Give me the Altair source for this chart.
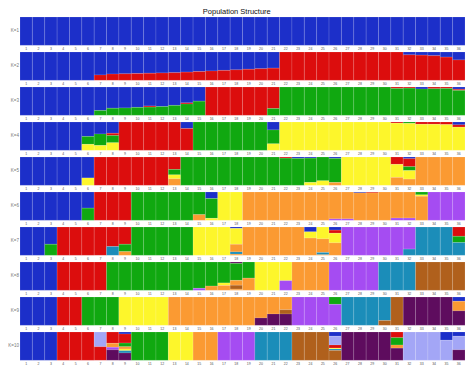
import altair as alt
import pandas as pd

# cluster codes and colours
codes = ["B", "R", "G", "Y", "O", "P", "T", "N", "M", "L"]
palette = ["#1c2fc9", "#dc0d0d", "#10a810", "#fdf62b", "#fb9a32",
           "#a54cf2", "#1b8db9", "#b0601c", "#5e0c5e", "#a3a6f6"]

ids = [str(n) for n in range(1, 37)]
klabels = ["K=%d" % k for k in range(1, 11)]

# each entry: segments from top to bottom, "C.ff" = colour + fraction, last takes the rest
K1 = ["B", "B", "B", "B", "B", "B", "B", "B", "B", "B", "B", "B",
      "B", "B", "B", "B", "B", "B", "B", "B", "B", "B", "B", "B",
      "B", "B", "B", "B", "B", "B", "B", "B", "B", "B", "B", "B"]
K2 = ["B", "B", "B", "B", "B", "B", "B.81 R", "B.78 R", "B.77 R", "B.76 R", "B.75 R", "B.74 R",
      "B.73 R", "B.71 R", "B.69 R", "B.67 R", "B.65 R", "B.63 R", "B.61 R", "B.59 R", "B.57 R", "R", "R", "R",
      "R", "R", "R", "R", "R", "R", "R", "B.10 R", "B.11 R", "B.13 R", "B.18 R", "B.28 R"]
K3 = ["B", "B", "B", "B", "B", "B", "B.83 G", "B.75 G", "B.74 G", "B.72 G", "B.67 R.04 G", "B.69 G",
      "B.65 G", "B.56 R.04 G", "B.50 G", "R", "R", "R", "R", "R", "R.76 G", "G", "G", "G",
      "G", "G", "G", "G", "G", "G", "R.05 G", "R.04 G", "B.07 G", "R.06 G", "R.05 G", "B.08 R.04 G"]
K4 = ["B", "B", "B", "B", "B", "B.51 G.28 Y", "B.42 G.41 Y", "B.40 R.08 G.25 Y", "R", "R", "R", "R",
      "R", "B.23 R", "G", "G", "G", "G", "G", "G", "B.28 G.49 Y", "Y", "Y", "Y",
      "Y", "Y", "Y", "Y", "Y", "Y", "R.04 Y", "G.05 Y", "R.08 Y", "R.08 Y", "R.09 Y", "B.10 R.08 Y"]
K5 = ["B", "B", "B", "B", "B", "B.74 Y", "R", "R", "R", "R", "R", "R",
      "R.44 G.19 Y.14 O", "G", "G", "G", "G", "G", "G", "G", "G", "R.04 G", "B.05 G", "B.04 G.86 Y",
      "G.84 Y", "B.05 G.85 O", "Y", "Y", "Y", "Y", "R.26 Y.46 O", "B.06 R.28 G.14 Y.30 O", "O", "O", "O", "O"]
K6 = ["B", "B", "B", "B", "B", "B.57 G", "R", "R", "R", "G", "G", "G",
      "G", "G", "G.80 O", "B.23 G.70 Y", "Y", "Y", "O", "O", "O", "O", "O", "O",
      "O", "O.95 P", "O.95 P", "B.03 O", "R.03 O", "O", "O.92 P", "O.92 P", "G.10 Y.05 O", "P", "P", "P"]
K7 = ["B", "B", "B.61 G", "R", "R", "R", "R", "R.69 T", "R.61 G.26 O", "G", "G", "G",
      "G", "G", "Y", "Y", "Y", "B.05 Y.56 O.27 T.08 O", "O", "O", "O", "O", "O", "B.17 Y.22 O",
      "Y.42 O.48 T.08 O", "B.11 R.11 Y.34 O", "P", "P", "P", "P", "P", "P.78 T", "T", "T", "T", "R.33 G.22 T"]
K8 = ["B", "B", "B", "R", "R", "R", "R", "G", "G", "G", "G", "G",
      "G", "G", "G.93 P", "G.85 O", "G.74 Y.09 O", "M.05 G.60 O.17 N.14 O", "G.57 O", "Y", "Y", "Y.66 P", "O", "O",
      "O", "P", "P", "P", "P", "T", "T", "T", "N", "N", "N", "N"]
K9 = ["B", "B", "B", "R", "R", "G", "G", "G", "Y", "Y", "Y", "Y",
      "O", "O", "O", "O", "O", "O", "O", "O.74 M", "O.60 M", "O.45 N.15 M", "P", "P",
      "P", "G.26 P", "T", "T", "T", "T.83 N", "N", "M", "M", "M", "M", "B.15 O.34 M"]
K10 = ["B", "B", "B", "R", "R", "R", "L.52 R", "R.40 O.14 P.09 M", "B.07 R.32 G.13 O.08 Y.06 T.08 M", "G", "G", "G",
       "Y", "Y", "O", "O", "P", "P", "P", "T", "T", "T", "N", "N",
       "N", "B.15 L.31 R.11 Y.03 T.05 N", "M", "M", "M", "M", "R.20 G.26 O.11 M", "L", "L", "L", "B.29 L", "B.15 L.48 M"]

panels = [K1, K2, K3, K4, K5, K6, K7, K8, K9, K10]

rows = []
for k, panel in enumerate(panels):
    for i, entry in enumerate(panel):
        toks = entry.split()
        top = 1.0
        for j, t in enumerate(toks):
            bottom = 0.0 if j == len(toks) - 1 else top - float(t[1:])
            rows.append({"K": klabels[k], "ind": ids[i], "c": t[0],
                         "y0": bottom, "y1": top})
            top = bottom
df = pd.DataFrame(rows)

H = 28.3

rect = alt.Chart().mark_rect(stroke="white", strokeWidth=0.4, strokeOpacity=0.3).encode(
    x=alt.X("ind:O", scale=alt.Scale(domain=ids, paddingInner=0, paddingOuter=0),
            axis=alt.Axis(title=None, ticks=False, domain=False, labelFontSize=3.5,
                          labelAngle=0, labelPadding=1, labelColor="#555")),
    y=alt.Y("y0:Q", scale=alt.Scale(domain=[0, 1], nice=False, zero=False), axis=None),
    y2="y1:Q",
    color=alt.Color("c:N", scale=alt.Scale(domain=codes, range=palette), legend=None),
)

klab = alt.Chart().transform_aggregate(n="count()", groupby=["K"]).mark_text(
    align="right", baseline="middle", fontSize=4.5, color="#777", font="Liberation Sans"
).encode(x=alt.value(-1), y=alt.value(H / 2), text="K:N")

chart = alt.layer(rect, klab, data=df).properties(width=445, height=H).facet(
    row=alt.Row("K:N", sort=klabels, header=alt.Header(title=None, labels=False)),
    spacing=1,
).resolve_axis(x="independent").properties(
    title=alt.TitleParams("Population Structure", fontSize=7.5, fontWeight="normal",
                          font="Liberation Sans", color="#111", offset=1, anchor="middle"),
    padding={"left": 0, "top": 0, "right": 0, "bottom": 0},
).configure_view(stroke=None)

chart.save("out.html", embed_options={"renderer": "svg", "actions": False})
